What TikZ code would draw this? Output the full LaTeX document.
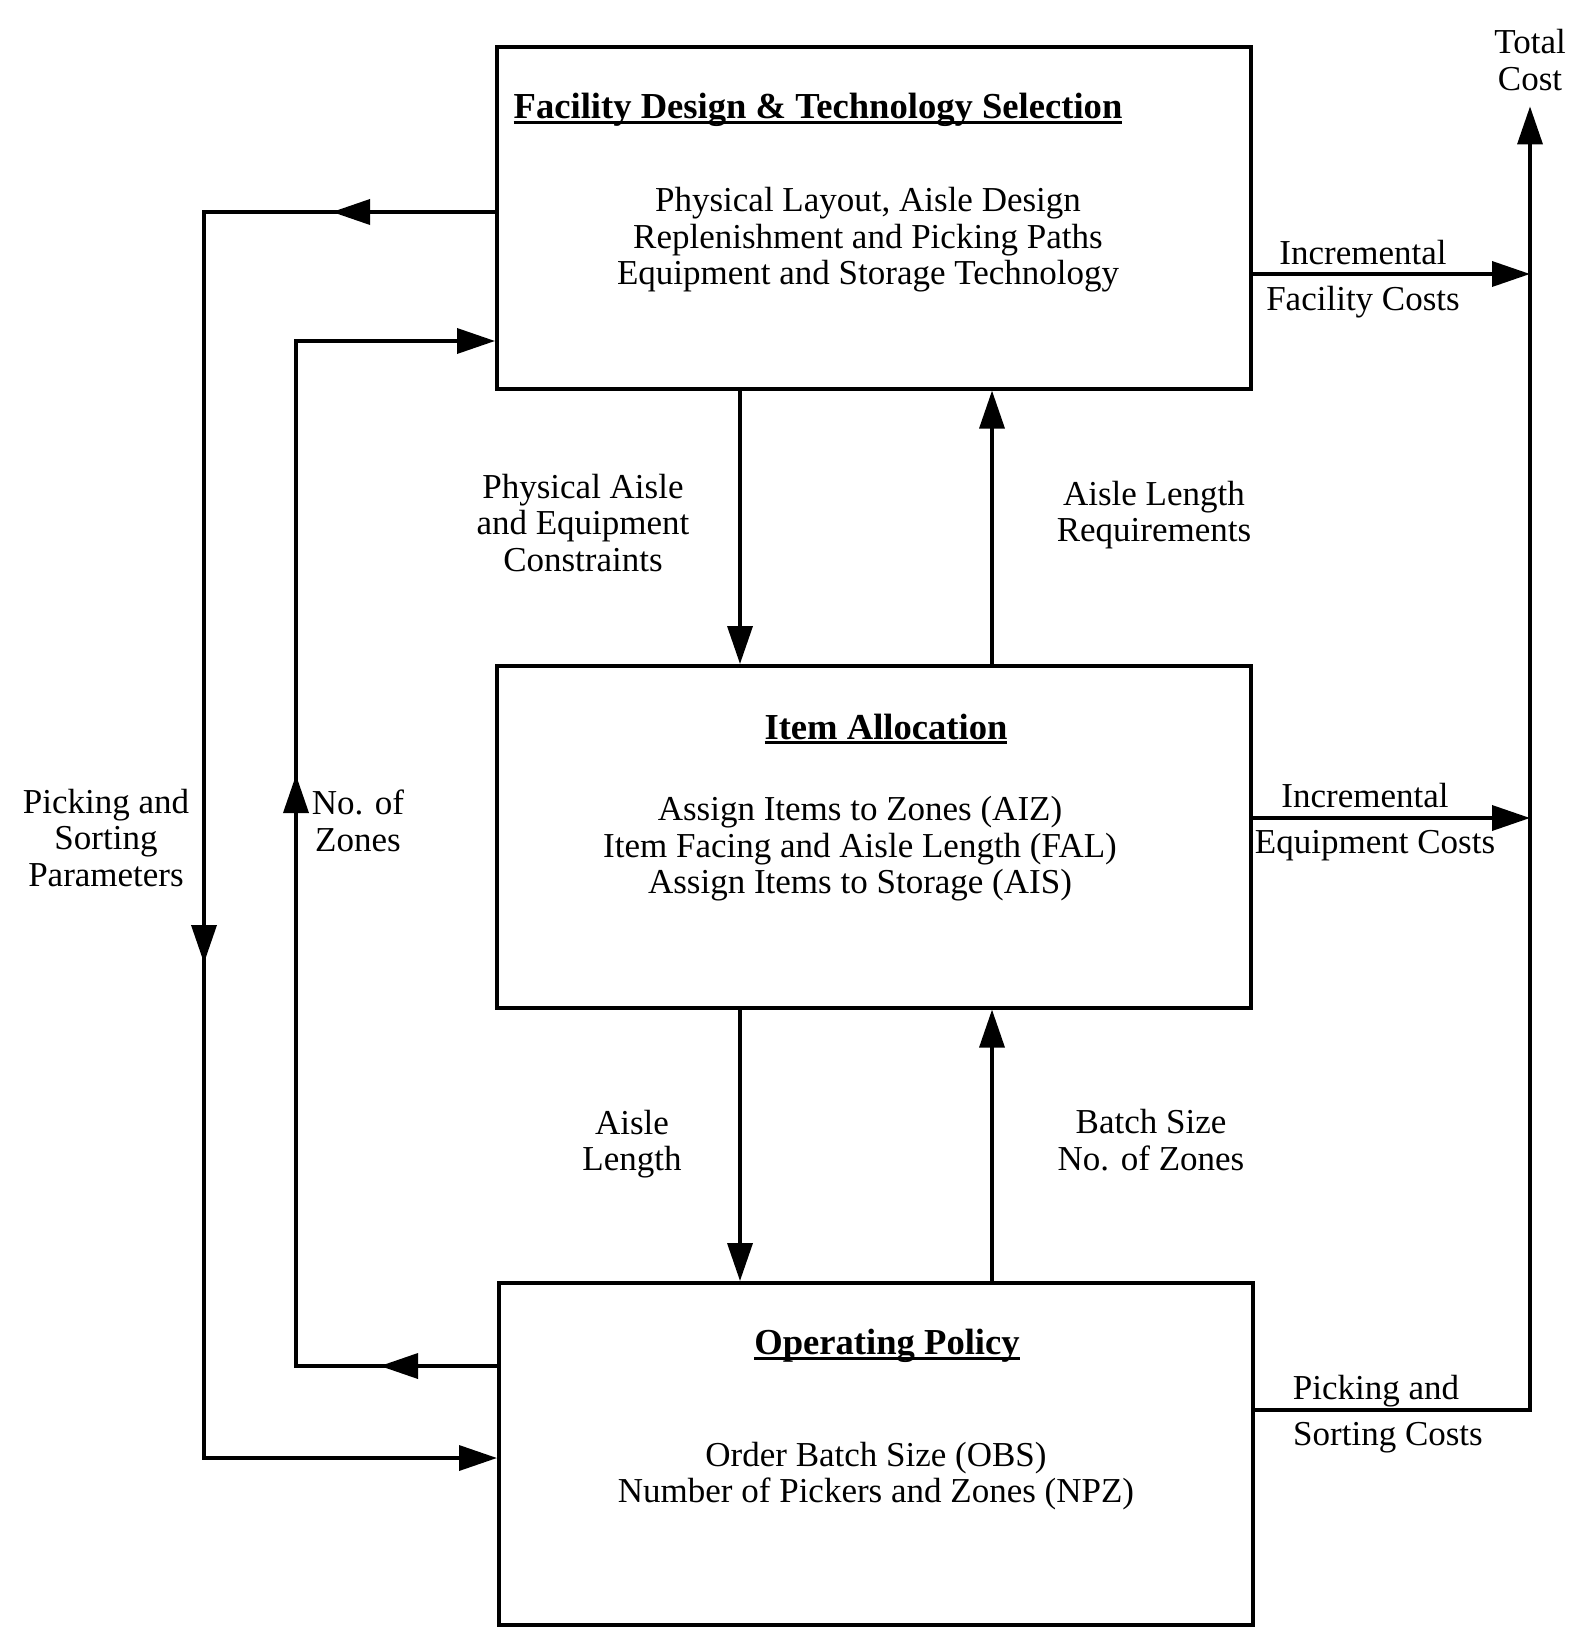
\documentclass[tikz,border=0pt]{standalone}
\usepackage{fontspec}
\setmainfont{Liberation Serif}
\usetikzlibrary{arrows.meta}
\newcommand{\boxtitle}[1]{\setbox0\hbox{\bfseries\fontsize{18.3}{19}\selectfont #1}\rlap{\rule[-2.6pt]{\wd0}{1.5pt}}\box0}
\tikzset{
  block/.style={draw,line width=1.8pt,anchor=north west,minimum width=377pt,minimum height=171pt,inner sep=0pt},
  body/.style={align=center,inner sep=0pt},
  lbl/.style={align=center,inner sep=0pt}
}

\begin{document}
\begin{tikzpicture}[x=0.5pt,y=-0.5pt,>={Triangle[length=19pt,width=12.5pt]},line width=1.8pt,font=\fontsize{17.5}{18.3}\selectfont]
\useasboundingbox (0,0) rectangle (1583,1642);
% boxes
\node[block](fac) at (495,45){};
\node[block](ia) at (495,664){};
\node[block](op) at (497,1281){};
\node[body](facT) at (818,110){\boxtitle{Facility Design \& Technology Selection}};
\node[body](facB) at (868,240){Physical Layout, Aisle Design\\Replenishment and Picking Paths\\Equipment and Storage Technology};
\node[body](iaT) at (886,729){\boxtitle{Item Allocation}};
\node[body](iaB) at (860,849){Assign Items to Zones (AIZ)\\Item Facing and Aisle Length (FAL)\\Assign Items to Storage (AIS)};
\node[body](opT) at (887,1346){\boxtitle{Operating Policy}};
\node[body](opB) at (876,1476){Order Batch Size (OBS)\\Number of Pickers and Zones (NPZ)};
\node[lbl](tc) at (1530,60){Total\\Cost};
% between the boxes
\draw[->](fac.south-|740,0)--(ia.north-|740,0);
\draw[->](ia.north-|992,0)--(fac.south-|992,0);
\draw[->](ia.south-|740,0)--(op.north-|740,0);
\draw[->](op.north-|992,0)--(ia.south-|992,0);
\node[lbl] at (583,523){Physical Aisle\\and Equipment\\Constraints};
\node[lbl] at (1154,515){Aisle Length\\Requirements};
\node[lbl] at (632,1144){Aisle\\Length};
\node[lbl] at (1151,1140){Batch Size\\No. of Zones};
% loops on the left
\draw[->](fac.west|-0,212)--(204,212)--(204,1458)--(op.west|-0,1458);
\draw[->](392,212)--(332,212);
\draw[->](204,903)--(204,963);
\draw[->](op.west|-0,1366)--(296,1366)--(296,341)--(fac.west|-0,341);
\draw[->](440,1366)--(380,1366);
\draw[->](296,835)--(296,775);
\node[lbl] at (106,838){Picking and\\Sorting\\Parameters};
\node[lbl,anchor=west] at (310,821){No. of\\Zones};
% costs on the right
\draw[->](fac.east|-0,274)--(1530,274);
\draw[->](ia.east|-0,818)--(1530,818);
\draw[->](op.east|-0,1410)--(1530,1410)--([yshift=-7pt]tc.south);
\node[lbl] at (1363,253){Incremental};
\node[lbl] at (1363,302){Facility Costs};
\node[lbl] at (1365,796){Incremental};
\node[lbl] at (1375,846){Equipment Costs};
\node[lbl] at (1376,1391){Picking and};
\node[lbl] at (1388,1438){Sorting Costs};
\end{tikzpicture}
\end{document}
